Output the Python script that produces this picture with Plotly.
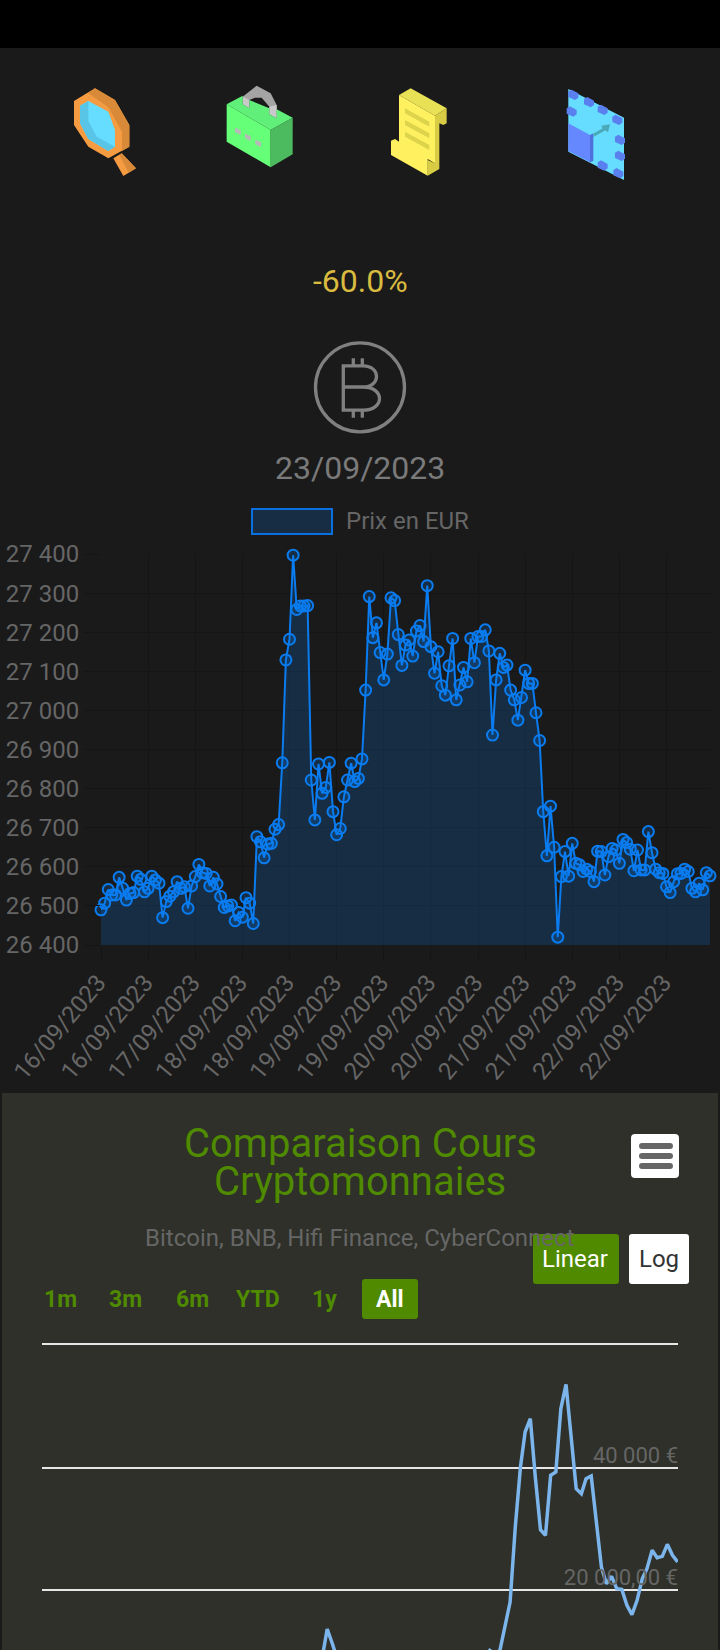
import plotly.graph_objects as go

# hourly BTC price over the week, one value per point
prices = [
    26490, 26507, 26542, 26528, 26528, 26573, 26545, 26515, 26532, 26534, 26576, 26568, 26536,
    26545, 26576, 26566, 26558, 26470, 26511, 26525, 26536, 26562, 26545, 26549, 26494, 26551,
    26575, 26606, 26585, 26583, 26551, 26573, 26556, 26524, 26496, 26500, 26502, 26462, 26483,
    26471, 26521, 26507, 26455, 26677, 26664, 26623, 26658, 26660, 26696, 26708, 26866, 27129,
    27182, 27397, 27258, 27267, 27267, 27268, 26822, 26720, 26863, 26788, 26803, 26867, 26741,
    26682, 26698, 26779, 26822, 26865, 26818, 26826, 26876, 27052, 27291, 27186, 27224, 27148,
    27078, 27144, 27288, 27281, 27194, 27115, 27167, 27180, 27139, 27203, 27217, 27176, 27319,
    27163, 27095, 27150, 27063, 27039, 27114, 27184, 27027, 27065, 27110, 27073, 27184, 27122,
    27189, 27189, 27206, 27152, 26937, 27078, 27146, 27110, 27116, 27052, 27027, 26975, 27033,
    27103, 27069, 27069, 26994, 26923, 26741, 26628, 26755, 26650, 26420, 26575, 26639, 26576,
    26660, 26609, 26605, 26588, 26594, 26588, 26562, 26640, 26639, 26579, 26626, 26647, 26643,
    26609, 26670, 26662, 26645, 26590, 26643, 26592, 26592, 26690, 26636, 26594, 26585, 26583,
    26549, 26534, 26562, 26582, 26583, 26594, 26588, 26545, 26536, 26558, 26541, 26585, 26577,
]
date_labels = [
    '16/09/2023', '16/09/2023', '17/09/2023', '18/09/2023', '18/09/2023', '19/09/2023', '19/09/2023',
    '20/09/2023', '20/09/2023', '21/09/2023', '21/09/2023', '22/09/2023', '22/09/2023',
]
price_ticks = [26400, 26500, 26600, 26700, 26800, 26900, 27000, 27100, 27200, 27300, 27400]
price_tick_labels = ['26 400', '26 500', '26 600', '26 700', '26 800', '26 900',
                     '27 000', '27 100', '27 200', '27 300', '27 400']

# monthly comparison line, only the part above the page bottom can be read
btc_dates = [
    '2013-04-01', '2017-10-01', '2017-11-01', '2017-12-01', '2018-01-01', '2018-02-01', '2020-06-01',
    '2020-07-01', '2020-08-01', '2020-09-01', '2020-10-01', '2020-11-01', '2020-12-01', '2021-01-01',
    '2021-02-01', '2021-03-01', '2021-04-01', '2021-05-01', '2021-06-01', '2021-07-01', '2021-08-01',
    '2021-09-01', '2021-10-01', '2021-11-01', '2021-12-01', '2022-01-01', '2022-02-01', '2022-03-01',
    '2022-04-01', '2022-05-01', '2022-06-01', '2022-07-01', '2022-08-01', '2022-09-01', '2022-10-01',
    '2022-11-01', '2022-12-01', '2023-01-01', '2023-02-01', '2023-03-01', '2023-04-01', '2023-05-01',
    '2023-06-01', '2023-07-01', '2023-08-01', '2023-09-01',
]
btc_values = [
    100, 5000, 8900, 13610, 11200, 8500, 8500,
    9000, 10100, 9500, 10110, 13930, 18030, 30330,
    40160, 45900, 48090, 38520, 29890, 28960, 38800,
    39340, 49730, 53720, 44540, 36610, 35790, 38250,
    38690, 31420, 23770, 21040, 22240, 20220, 20110,
    17490, 15960, 18310, 21860, 23500, 26500, 25300,
    25520, 27490, 25680, 24590,
]
compare_ticks = [20000, 40000, 60330]
compare_tick_labels = ['20 000,00 €', '40 000 €', '']
range_labels = ['1m', '3m', '6m', 'YTD', '1y', 'All']

W = 720
H = 1650
FONT = 'Roboto'
BG = '#1a1a1a'
PANEL = '#2e3029'
GREEN = '#4f8a00'
GREY = '#666666'
BLUE = '#0a7cf0'
GRID = '#151515'


def fx(x):
    return x / W


def fy(y):
    return 1 - y / H


def pt(x, y):
    return f'{fx(x):.5f},{fy(y):.5f}'


shapes = []
annotations = []


def add_poly(points, color):
    d = 'M' + ' L'.join(pt(x, y) for x, y in points) + ' Z'
    shapes.append(dict(type='path', xref='paper', yref='paper', path=d, fillcolor=color,
                       line={'width': 0}, layer='above'))


def add_icon(x0, y0, polys):
    for color, pts in polys:
        add_poly([(x0 + a / 3, y0 + b / 3) for a, b in pts], color)


def add_rect(x0, y0, x1, y1, color, layer='above', line=None):
    shapes.append(dict(type='rect', xref='paper', yref='paper', x0=fx(x0), x1=fx(x1), y0=fy(y0), y1=fy(y1),
                       fillcolor=color, layer=layer, line=line or {'width': 0}))


def add_round_rect(x0, y0, x1, y1, r, color):
    d = (f'M{pt(x0 + r, y0)} L{pt(x1 - r, y0)} Q{pt(x1, y0)} {pt(x1, y0 + r)} L{pt(x1, y1 - r)} '
         f'Q{pt(x1, y1)} {pt(x1 - r, y1)} L{pt(x0 + r, y1)} Q{pt(x0, y1)} {pt(x0, y1 - r)} '
         f'L{pt(x0, y0 + r)} Q{pt(x0, y0)} {pt(x0 + r, y0)} Z')
    shapes.append(dict(type='path', xref='paper', yref='paper', path=d, fillcolor=color,
                       line={'width': 0}, layer='above'))


def add_text(x, y, text, size, color, anchor='center', family=FONT):
    annotations.append(dict(xref='paper', yref='paper', x=fx(x), y=fy(y), text=text, showarrow=False,
                            xanchor=anchor, yanchor='middle', font={'family': family, 'size': size, 'color': color}))


# page background pieces
add_rect(0, 0, W, 48, '#000000', layer='below')
add_rect(2, 1093, 718, H, PANEL, layer='below')

# header icons
add_icon(60, 75, [
    ('#f59c42', [(42, 78), (105, 40), (165, 75), (208, 150), (208, 215), (145, 250), (85, 215), (42, 150)]),
    ('#d88a38', [(105, 40), (165, 75), (208, 150), (208, 215), (186, 228), (186, 170), (145, 97), (85, 55)]),
    ('#66ddff', [(60, 92), (85, 78), (145, 110), (165, 165), (165, 215), (145, 228), (85, 192), (60, 145)]),
    ('#58c4e6', [(60, 92), (85, 78), (85, 138), (110, 185), (165, 215), (145, 228), (85, 192), (60, 145)]),
    ('#f59c42', [(160, 250), (185, 235), (228, 280), (190, 303)]),
    ('#d88a38', [(178, 240), (185, 235), (228, 280), (206, 293)]),
])
add_icon(60, 75, [
    ('#a4a4a4', [(548, 65), (590, 32), (632, 55), (650, 90), (650, 130), (628, 118), (628, 95), (605, 68),
                 (585, 68), (568, 75), (568, 100), (548, 88)]),
    ('#c9c9c9', [(548, 65), (568, 75), (568, 100), (548, 88)]),
    ('#c9c9c9', [(628, 95), (650, 90), (650, 130), (628, 118)]),
    ('#60f07a', [(500, 88), (548, 62), (548, 88), (568, 100), (568, 75), (628, 100), (628, 118), (650, 130),
                 (650, 103), (698, 128), (632, 165)]),
    ('#66ff78', [(500, 88), (632, 165), (632, 277), (500, 200)]),
    ('#4cbb5f', [(632, 165), (698, 128), (698, 238), (632, 277)]),
    ('#b8b8b8', [(525, 158), (542, 165), (542, 180), (525, 172)]),
    ('#b8b8b8', [(555, 176), (572, 183), (572, 198), (555, 190)]),
    ('#b8b8b8', [(586, 194), (603, 201), (603, 216), (586, 208)]),
])
add_icon(380, 75, [
    ('#d8cc45', [(165, 122), (200, 100), (200, 145), (190, 150), (178, 145), (178, 282), (143, 302), (143, 255),
                 (165, 265)]),
    ('#e8e055', [(57, 60), (92, 40), (200, 100), (165, 122)]),
    ('#fff060', [(57, 60), (165, 122), (165, 265), (143, 252), (143, 302), (33, 240), (33, 197), (45, 192), (57, 200)]),
    ('#ddd44c', [(75, 100), (148, 140), (148, 155), (75, 115)]),
    ('#ddd44c', [(75, 135), (148, 175), (148, 190), (75, 150)]),
    ('#ddd44c', [(75, 170), (148, 210), (148, 225), (75, 185)]),
])
blocks = [(580, 60), (627, 82), (668, 105), (712, 135), (575, 110), (720, 195), (720, 243), (668, 272), (715, 295)]
blue_icon = [
    ('#66ddff', [(565, 42), (732, 128), (732, 315), (565, 230)]),
    ('#6688ff', [(565, 145), (630, 180), (630, 262), (565, 228)]),
    ('#4f6fdc', [(630, 180), (640, 175), (640, 258), (630, 262)]),
    ('#4aa8b8', [(640, 176), (668, 160), (664, 152), (690, 148), (684, 172), (676, 166), (640, 186)]),
]
for cx, cy in blocks:
    blue_icon.append(('#5a80f0', [(cx - 15, cy - 10), (cx - 5, cy - 16), (cx + 15, cy - 5), (cx + 15, cy + 8),
                                  (cx + 5, cy + 15), (cx - 15, cy + 6)]))
add_icon(380, 75, blue_icon)

# bitcoin logo
add_text(360, 280.5, '-60.0%', 32, '#d9bb40')
shapes.append(dict(type='circle', xref='paper', yref='paper', x0=fx(315.5), x1=fx(404.5), y0=fy(342.8), y1=fy(431.8),
                   line={'color': '#808080', 'width': 3.3}, layer='above'))
bd = (f'M{pt(343.3, 365.8)} L{pt(363, 365.8)} C{pt(381, 365.8)} {pt(381, 387)} {pt(363, 387)} '
      f'C{pt(385, 387)} {pt(385, 410.2)} {pt(363, 410.2)} L{pt(343.3, 410.2)} Z M{pt(343.3, 387)} L{pt(363, 387)}')
shapes.append(dict(type='path', xref='paper', yref='paper', path=bd, line={'color': '#808080', 'width': 3.3},
                   layer='above'))
for lx in (353.3, 362.3):
    for a, b in ((358.3, 365), (411, 417.7)):
        shapes.append(dict(type='line', xref='paper', yref='paper', x0=fx(lx), x1=fx(lx), y0=fy(a), y1=fy(b),
                           line={'color': '#808080', 'width': 3.3}, layer='above'))
add_text(360, 468, '23/09/2023', 32, '#7a7a7a')

# legend of the price chart
add_rect(252, 509, 332, 534, 'rgba(10,124,240,0.2)', line={'color': '#0a6fe0', 'width': 2})
add_text(344, 521, 'Prix en EUR', 24, GREY, anchor='left')

# lower card header
add_text(360, 1143.5, 'Comparaison Cours', 40, GREEN)
add_text(360, 1181, 'Cryptomonnaies', 40, GREEN)
add_text(360, 1238, 'Bitcoin, BNB, Hifi Finance, CyberConnect', 24, GREY)
add_round_rect(631, 1134, 679, 1178, 4, '#ffffff')
for by in (1146, 1156, 1166):
    add_round_rect(639, by - 3, 673, by + 3, 3, '#666666')
add_round_rect(533, 1234, 619, 1284, 3, GREEN)
add_round_rect(629, 1234, 689, 1284, 3, '#ffffff')
add_text(575, 1259, 'Linear', 24, '#ffffff')
add_text(658.5, 1259, 'Log', 24, '#333333')
add_round_rect(362, 1279, 418, 1319, 3, GREEN)
for lab, bx in zip(range_labels, (60, 126, 192, 257.5, 324, 390)):
    annotations.append(dict(xref='paper', yref='paper', x=fx(bx), y=fy(1299), text=f'<b>{lab}</b>', showarrow=False,
                            xanchor='center', yanchor='middle',
                            font={'family': FONT, 'size': 23, 'color': '#ffffff' if lab == 'All' else GREEN}))

xs = list(range(len(prices)))

fig = go.Figure()
fig.add_trace(go.Scatter(x=xs, y=prices, mode='none', fill='tozeroy', fillcolor='rgba(10,124,240,0.2)',
                         hoverinfo='skip', showlegend=False))
fig.add_trace(go.Scatter(x=xs, y=prices, mode='lines+markers', cliponaxis=False, showlegend=False,
                         line={'color': BLUE, 'width': 2},
                         marker={'symbol': 'circle', 'size': 11, 'color': 'rgba(10,124,240,0.2)',
                                 'line': {'color': BLUE, 'width': 2}}))
fig.add_trace(go.Scatter(x=btc_dates, y=btc_values, mode='lines', xaxis='x2', yaxis='y2', showlegend=False,
                         line={'color': '#7cb5ec', 'width': 3.5}))

fig.update_layout(
    width=W, height=H, margin={'l': 0, 'r': 0, 't': 0, 'b': 0, 'pad': 0}, autosize=False,
    paper_bgcolor=BG, plot_bgcolor='rgba(0,0,0,0)', font={'family': FONT, 'color': GREY},
    shapes=shapes, annotations=annotations, showlegend=False,
    xaxis=dict(domain=[fx(101), fx(710)], range=[0, len(prices) - 1], tickmode='array', automargin=False,
               tickvals=xs[::13], ticktext=date_labels, tickangle=-50, tickfont={'size': 24, 'color': GREY},
               ticklabelshift=-3, ticklabelstandoff=-3,
               showgrid=True, gridcolor=GRID, gridwidth=1, zeroline=False, ticks='outside', ticklen=16,
               tickcolor=GRID, showline=False),
    yaxis=dict(domain=[fy(945), fy(554)], range=[26400, 27400], tickmode='array', tickvals=price_ticks,
               automargin=False, ticktext=price_tick_labels, tickfont={'size': 24, 'color': GREY}, showgrid=True,
               gridcolor=GRID, gridwidth=1, zeroline=False, ticks='outside', ticklen=16, tickcolor=GRID,
               showline=False),
    xaxis2=dict(domain=[fx(42), fx(678)], range=['2013-03-28', '2023-09-03'], anchor='y2', showgrid=False,
                automargin=False, showticklabels=False, zeroline=False, ticks=''),
    yaxis2=dict(domain=[0, fy(1341)], range=[10164, 60820], anchor='x2', side='right', tickmode='array',
                automargin=False, tickvals=compare_ticks, ticktext=compare_tick_labels,
                ticklabelposition='inside top', ticklabelshift=3, ticklabelstandoff=-3,
                tickfont={'size': 22, 'color': GREY}, showgrid=True,
                gridcolor='#e6e6e6', gridwidth=2, zeroline=False, ticks=''),
)

fig.write_html('out.html', config={'displayModeBar': False},
               post_script="document.body.style.margin='0';document.body.style.overflow='hidden';")
